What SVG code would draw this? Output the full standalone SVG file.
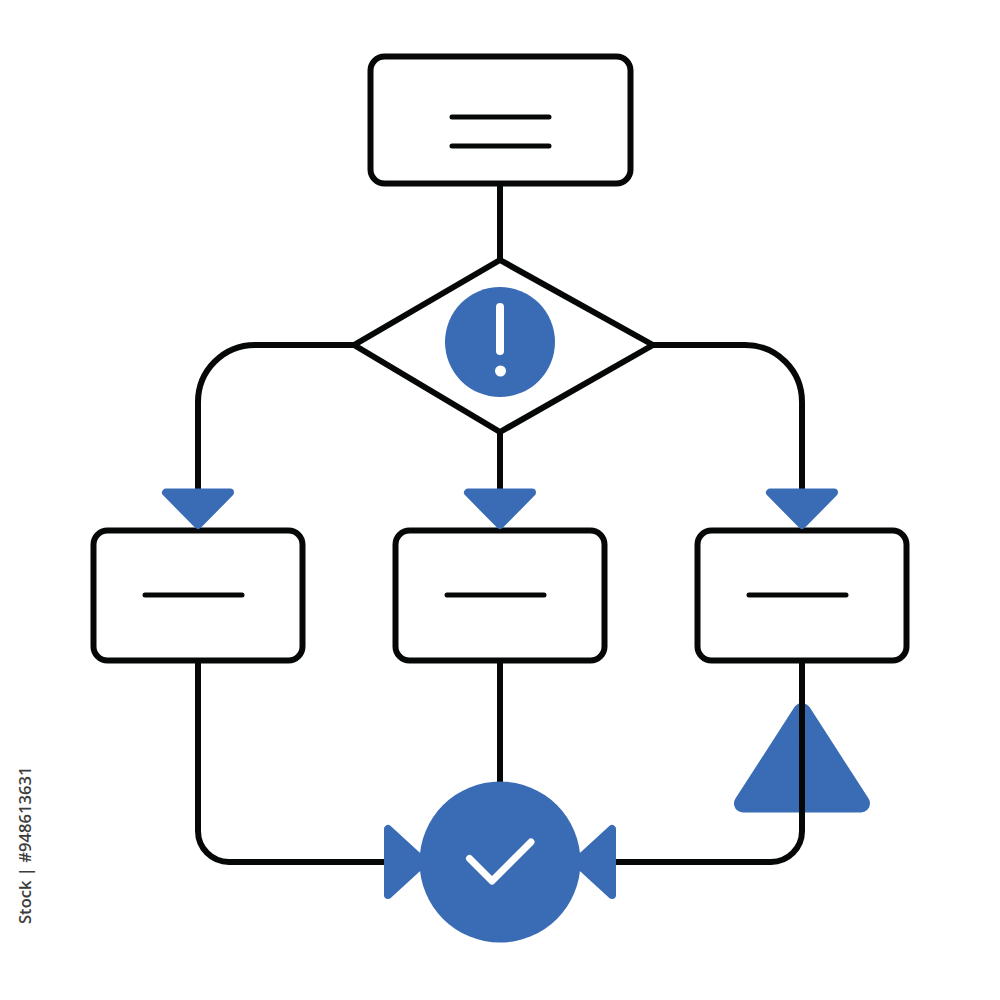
<svg xmlns="http://www.w3.org/2000/svg" width="1000" height="1000" viewBox="0 0 1000 1000">
<style>
.box{fill:#fff;stroke:#060808;stroke-width:6;stroke-linejoin:round}
.ln{fill:none;stroke:#060808;stroke-width:5;stroke-linecap:round}
.con{fill:none;stroke:#060808;stroke-width:6}
.blue{fill:#3a6cb5}
.tri{fill:#3a6cb5;stroke:#3a6cb5;stroke-width:8;stroke-linejoin:round}
.tri-big{fill:#3a6cb5;stroke:#3a6cb5;stroke-width:18;stroke-linejoin:round}
.wh{fill:none;stroke:#fff;stroke-linecap:round;stroke-linejoin:round}
.id{font-family:"Open Sans","Liberation Sans",sans-serif;font-size:16.600px;font-weight:600;fill:#3c3c3c}
</style>
<rect width="1000" height="1000" fill="#fff"/>
<g id="connectors">
<path class="con" d="M500 184V260"/>
<path class="con" d="M354 345H255A57 57 0 0 0 198 402V492"/>
<path class="con" d="M500 432V492"/>
<path class="con" d="M653 345H745A57 57 0 0 1 802 402V492"/>
<path class="con" d="M198 661V831A31 31 0 0 0 229 862H388"/>
<path class="con" d="M500 661V785"/>
</g>
<g id="warning-triangle"><path class="tri-big" d="M802 712L743 803.500H861Z"/></g>
<g id="connector-right-return"><path class="con" d="M802 661V831A31 31 0 0 1 771 862H612"/></g>
<g id="start"><rect class="box" x="370.500" y="56.500" width="260" height="127" rx="14"/><path class="ln" d="M452 117H549M452 146H549"/></g>
<g id="decision"><path class="box" d="M500 260L653 345L500 432L354 345Z"/><circle class="blue" cx="500" cy="342" r="55"/><path class="wh" style="stroke-width:8" d="M500 307V351"/><circle cx="500.500" cy="371" r="5.500" fill="#fff"/></g>
<g id="box-left"><rect class="box" x="93.500" y="530.500" width="209" height="130" rx="14"/><path class="ln" d="M145 595H242"/></g>
<g id="box-center"><rect class="box" x="395.500" y="530.500" width="209" height="130" rx="14"/><path class="ln" d="M447 595H544"/></g>
<g id="box-right"><rect class="box" x="697.500" y="530.500" width="209" height="130" rx="14"/><path class="ln" d="M749 595H846"/></g>
<g id="arrow-left"><path class="tri" d="M166 492.500H230L198 525Z"/></g>
<g id="arrow-center"><path class="tri" d="M468 492.500H532L500 525Z"/></g>
<g id="arrow-right"><path class="tri" d="M770 492.500H834L802 525Z"/></g>
<g id="end"><path class="tri" d="M388 829V895L424 862Z"/><path class="tri" d="M612 829V895L576 862Z"/><circle class="blue" cx="500" cy="862" r="80.500"/><path class="wh" style="stroke-width:7" d="M469.500 858.500L492 881L531 842"/></g>
<text class="id" transform="translate(31 924) rotate(-90)">Stock | #948613631</text>
</svg>
